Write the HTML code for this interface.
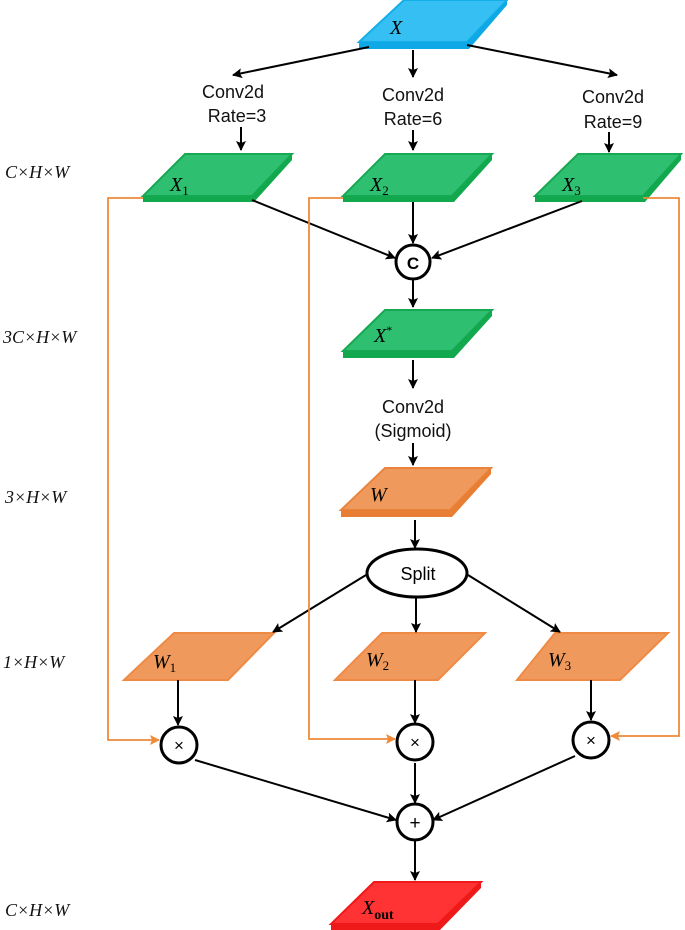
<!DOCTYPE html>
<html><head><meta charset="utf-8"><style>
html,body{margin:0;padding:0;background:#fff;}
svg{display:block;}
text{font-family:"Liberation Sans","DejaVu Sans",sans-serif;}
text.m, .m text{font-family:"Liberation Serif","DejaVu Serif",serif;font-style:italic;}
</style></head><body>
<svg width="685" height="930" viewBox="0 0 685 930" xmlns="http://www.w3.org/2000/svg">
<defs>
<marker id="a" markerWidth="10" markerHeight="10" refX="9" refY="5" orient="auto" markerUnits="userSpaceOnUse"><path d="M0,0 L10,5 L0,10 L2,5 z" fill="#000"/></marker>
<marker id="o" markerWidth="10" markerHeight="10" refX="9" refY="5" orient="auto" markerUnits="userSpaceOnUse"><path d="M0,0 L10,5 L0,10 L2,5 z" fill="#ee8a3a"/></marker>
</defs>
<g stroke-width="2">
<polygon points="404,0 507,0 467,42 359,42" fill="#35bff2" stroke="#14aee8"/>
<polygon points="359,42 467,42 507,0 507,5 469,49 359,49" fill="#0ea8e6"/>
<text x="390" y="34" class="m" font-size="20">X</text>
<g fill="#2fbf70" stroke="#16a852">
<polygon points="185,154 292,154 252,196 143,196"/>
<polygon points="385,154 492,154 452,196 343,196"/>
<polygon points="578,154 681,154 643,196 535,196"/>
<polygon points="385,310 492,310 452,351 343,351"/>
</g>
<g fill="#12a84e">
<polygon points="143,196 252,196 292,154 292,160 254,202 143,202"/>
<polygon points="343,196 452,196 492,154 492,160 454,202 343,202"/>
<polygon points="535,196 643,196 681,154 681,160 645,202 535,202"/>
<polygon points="343,351 452,351 492,310 492,316 454,358 343,358"/>
</g>
<text x="170" y="191" class="m" font-size="20">X<tspan font-size="13" dy="4" font-style="normal">1</tspan></text>
<text x="370" y="191" class="m" font-size="20">X<tspan font-size="13" dy="4" font-style="normal">2</tspan></text>
<text x="562" y="191" class="m" font-size="20">X<tspan font-size="13" dy="4" font-style="normal">3</tspan></text>
<text x="374" y="342" class="m" font-size="20">X<tspan font-size="12" dy="-8" font-style="normal">*</tspan></text>
<polygon points="385,468 491,468 450,510 341,510" fill="#ef9a5c" stroke="#ea843c"/>
<polygon points="341,510 450,510 491,468 491,474 452,517 341,517" fill="#e87e34"/>
<text x="370" y="501" class="m" font-size="20">W</text>
<g fill="#ef9a5c" stroke="#ef8a44">
<polygon points="174,633 274,633 228,680 124,680"/>
<polygon points="382,633 485,633 438,680 335,680"/>
<polygon points="555,633 668,633 620,680 517,680"/>
</g>
<text x="153" y="668" class="m" font-size="20">W<tspan font-size="13" dy="4" font-style="normal">1</tspan></text>
<text x="366" y="666" class="m" font-size="20">W<tspan font-size="13" dy="4" font-style="normal">2</tspan></text>
<text x="548" y="666" class="m" font-size="20">W<tspan font-size="13" dy="4" font-style="normal">3</tspan></text>
<polygon points="374,882 481,882 438,924 331,924" fill="#ff3333" stroke="#f01818"/>
<polygon points="331,924 438,924 481,882 481,888 440,930 331,930" fill="#ee1a1a"/>
<text x="362" y="914" class="m" font-size="20">X<tspan font-size="14" dy="5" font-style="normal" font-weight="bold">out</tspan></text>
</g>
<g font-size="18" fill="#111" text-anchor="middle">
<text x="233" y="98">Conv2d</text><text x="237" y="122">Rate=3</text>
<text x="413" y="101">Conv2d</text><text x="413" y="125">Rate=6</text>
<text x="613" y="103">Conv2d</text><text x="613" y="128">Rate=9</text>
<text x="413" y="413">Conv2d</text><text x="413" y="437">(Sigmoid)</text>
</g>
<g font-size="18" class="m" fill="#111">
<text x="5" y="178">C×H×W</text>
<text x="3" y="343">3C×H×W</text>
<text x="5" y="503">3×H×W</text>
<text x="3" y="668">1×H×W</text>
<text x="5" y="916">C×H×W</text>
</g>
<g stroke="#000" stroke-width="2" fill="none" marker-end="url(#a)">
<line x1="369" y1="47" x2="233" y2="75"/>
<line x1="413" y1="50" x2="413" y2="77"/>
<line x1="467" y1="45" x2="617" y2="75"/>
<line x1="241" y1="127" x2="241" y2="150"/>
<line x1="413" y1="130" x2="413" y2="150"/>
<line x1="609" y1="132" x2="609" y2="152"/>
<line x1="252" y1="200" x2="395" y2="258"/>
<line x1="413" y1="202" x2="413" y2="243"/>
<line x1="582" y1="201" x2="432" y2="258"/>
<line x1="413" y1="280" x2="413" y2="307"/>
<line x1="413" y1="360" x2="413" y2="388"/>
<line x1="413" y1="443" x2="413" y2="465"/>
<line x1="415" y1="520" x2="415" y2="548"/>
<line x1="366" y1="575" x2="273" y2="632"/>
<line x1="416" y1="598" x2="416" y2="632"/>
<line x1="468" y1="575" x2="560" y2="632"/>
<line x1="178" y1="680" x2="178" y2="725"/>
<line x1="415" y1="680" x2="415" y2="723"/>
<line x1="591" y1="680" x2="591" y2="720"/>
<line x1="195" y1="760" x2="396" y2="820"/>
<line x1="415" y1="763" x2="415" y2="803"/>
<line x1="575" y1="756" x2="433" y2="820"/>
<line x1="415" y1="841" x2="415" y2="880"/>
</g>
<g stroke="#ee8a3a" stroke-width="1.8" fill="none" marker-end="url(#o)">
<polyline points="143,198 108,198 108,740 159,740"/>
<polyline points="343,198 309,198 309,739 395,739"/>
<polyline points="643,198 679,198 679,736 611,736"/>
</g>
<g stroke="#000" stroke-width="3" fill="#fff">
<circle cx="413" cy="262" r="17"/>
<ellipse cx="417" cy="573" rx="50" ry="24"/>
<circle cx="179" cy="745" r="18"/>
<circle cx="415" cy="742" r="18"/>
<circle cx="591" cy="740" r="18"/>
<circle cx="415" cy="822" r="18"/>
</g>
<g text-anchor="middle" fill="#000">
<text x="413" y="269" font-size="17" font-weight="bold">C</text>
<text x="418" y="580" font-size="18">Split</text>
<text x="179" y="751" font-size="17">×</text>
<text x="415" y="748" font-size="17">×</text>
<text x="591" y="746" font-size="17">×</text>
<text x="415" y="829" font-size="19">+</text>
</g>
</svg>
</body></html>
